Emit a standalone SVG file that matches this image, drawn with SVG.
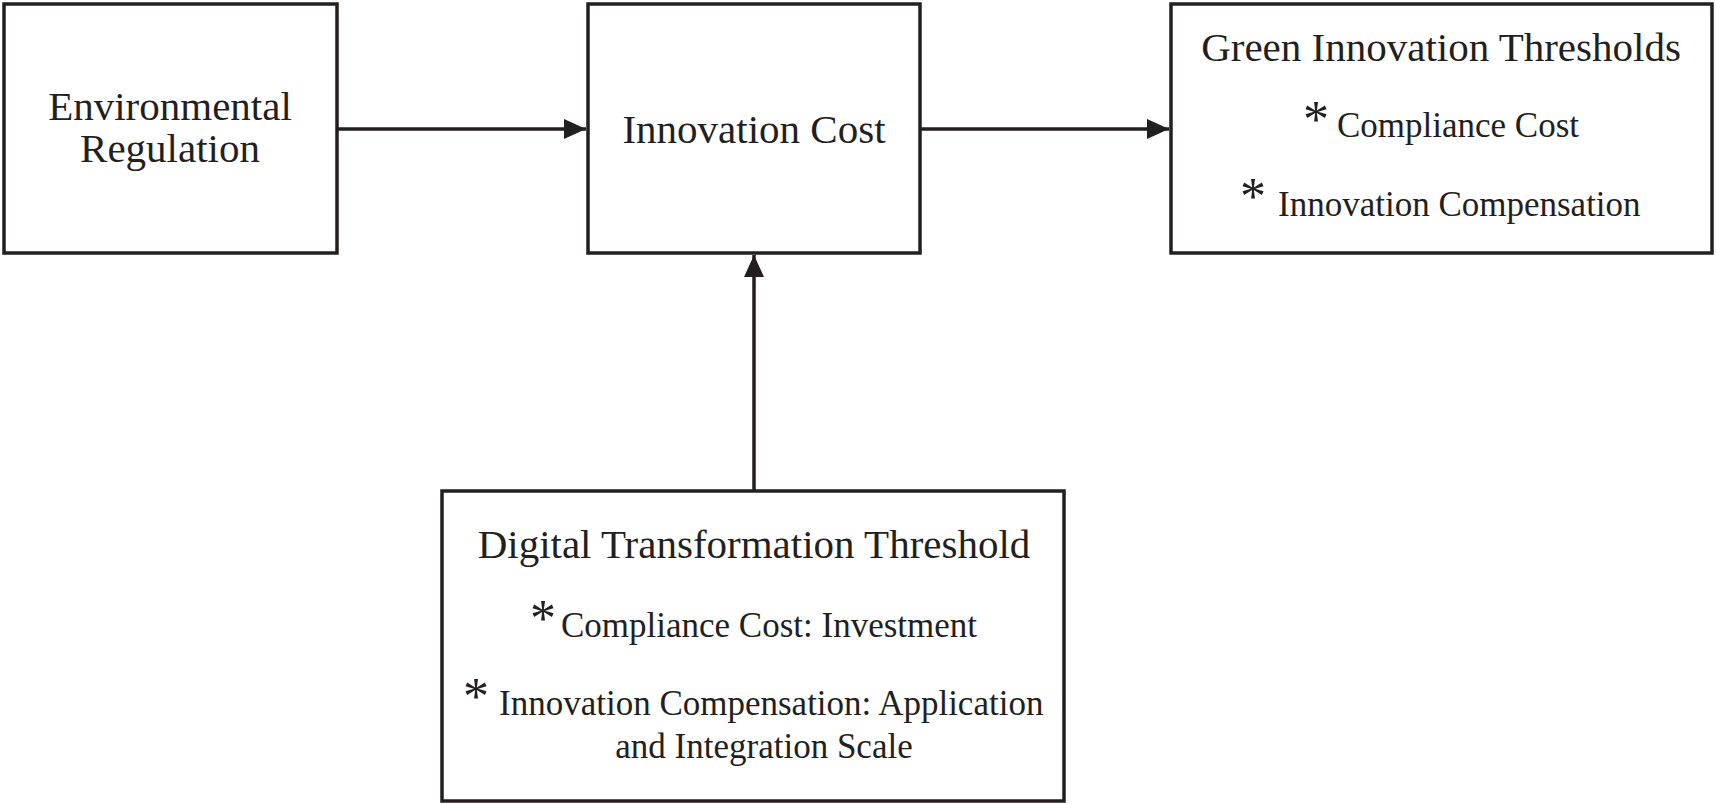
<svg xmlns="http://www.w3.org/2000/svg" width="1716" height="804" viewBox="0 0 1716 804">
<style>
.box{fill:#fff;stroke:#231f20;stroke-width:3.5}
.t{font-family:"Liberation Serif","Times New Roman",serif;fill:#231f20}
.big{font-size:41px}
.sm{font-size:35px}
.ast{font-size:52px}
.c{stroke:#231f20;stroke-width:3.5;fill:none}
</style>
<defs>
<marker id="ah" markerUnits="userSpaceOnUse" markerWidth="24" markerHeight="22" refX="22" refY="10" orient="auto">
<path d="M0,0 L22,10 L0,20 z" fill="#231f20"/>
</marker>
</defs>
<rect width="1716" height="804" fill="#fff"/>
<g id="connectors">
<line class="c" x1="337" y1="129" x2="586" y2="129" marker-end="url(#ah)"/>
<line class="c" x1="920" y1="129" x2="1169" y2="129" marker-end="url(#ah)"/>
<line class="c" x1="754" y1="491" x2="754" y2="255" marker-end="url(#ah)"/>
</g>
<g id="env">
<rect class="box" x="4" y="4" width="333" height="249"/>
<text class="t big" x="170" y="120" text-anchor="middle">Environmental</text>
<text class="t big" x="170" y="162" text-anchor="middle">Regulation</text>
</g>
<g id="cost">
<rect class="box" x="588" y="4" width="332" height="249"/>
<text class="t big" x="754" y="143" text-anchor="middle">Innovation Cost</text>
</g>
<g id="green">
<rect class="box" x="1171" y="4" width="541" height="249"/>
<text class="t big" x="1441" y="61" text-anchor="middle">Green Innovation Thresholds</text>
<text class="t ast" x="1303" y="137">*</text>
<text class="t sm" x="1337" y="137">Compliance Cost</text>
<text class="t ast" x="1240" y="214">*</text>
<text class="t sm" x="1278" y="216">Innovation Compensation</text>
</g>
<g id="digital">
<rect class="box" x="442" y="491" width="622" height="310"/>
<text class="t big" x="754" y="558" text-anchor="middle">Digital Transformation Threshold</text>
<text class="t ast" x="530" y="636">*</text>
<text class="t sm" x="561" y="637">Compliance Cost: Investment</text>
<text class="t ast" x="463" y="714">*</text>
<text class="t sm" x="499" y="715">Innovation Compensation: Application</text>
<text class="t sm" x="764" y="758" text-anchor="middle">and Integration Scale</text>
</g>
</svg>
